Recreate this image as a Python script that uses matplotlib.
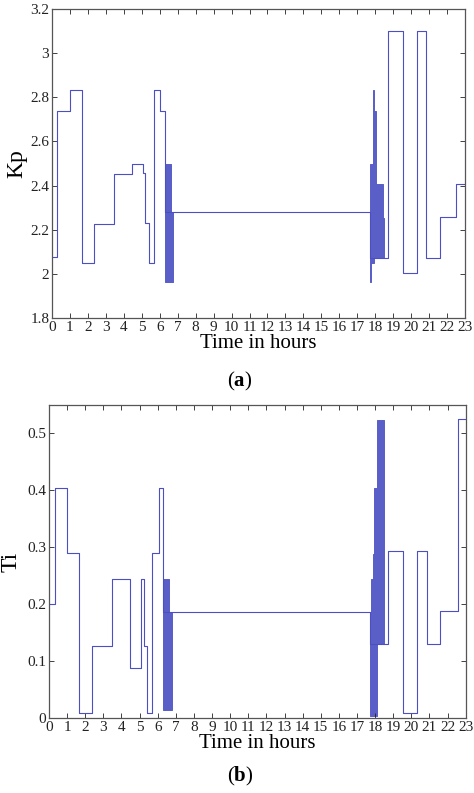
import matplotlib
matplotlib.use("Agg")
import matplotlib.pyplot as plt
import numpy as np
from matplotlib.ticker import FuncFormatter

plt.rcParams['font.family'] = ['Liberation Serif', 'DejaVu Serif']
plt.rcParams['mathtext.fontset'] = 'custom'
plt.rcParams['mathtext.bf'] = 'Liberation Serif:bold'
plt.rcParams['mathtext.rm'] = 'Liberation Serif'

# Kp: step edges (hours) and level held after each edge
kp_t = [0, 0.27, 1.03, 1.66, 2.36, 3.44, 4.45, 5.07, 5.18, 5.40, 5.66, 6.01, 6.28,
        6.76, 17.70, 18.50, 18.74, 19.52, 20.32, 20.82, 21.60, 22.50, 23.0]
kp_v = [2.075, 2.737, 2.833, 2.048, 2.226, 2.454, 2.496, 2.457, 2.229, 2.050, 2.833,
        2.738, 2.279, 2.279, 2.072, 2.072, 3.10, 2.005, 3.10, 2.072, 2.256, 2.409, 2.409]

# Kp fast-switching bursts: band edges, low and high envelope
kp_b1_t = [6.28, 6.65, 6.76]
kp_b1_lo = [1.962, 1.962, 1.962]
kp_b1_hi = [2.496, 2.279, 2.279]
kp_b2_t = [17.70, 17.79, 17.86, 17.96, 18.05, 18.42, 18.50]
kp_b2_lo = [1.962, 2.048, 2.048, 2.072, 2.072, 2.072, 2.072]
kp_b2_hi = [2.496, 2.496, 2.833, 2.738, 2.407, 2.252, 2.252]

# Ti
ti_t = [0, 0.31, 1.02, 1.66, 2.36, 3.45, 4.47, 5.08, 5.22, 5.43, 5.70, 6.05, 6.30,
        6.80, 17.70, 18.50, 18.74, 19.52, 20.32, 20.85, 21.60, 22.55, 23.0]
ti_v = [0.200, 0.405, 0.290, 0.010, 0.127, 0.245, 0.089, 0.245, 0.127, 0.010, 0.290,
        0.405, 0.186, 0.186, 0.130, 0.130, 0.293, 0.010, 0.293, 0.130, 0.188, 0.525, 0.525]

ti_b1_t = [6.30, 6.65, 6.80]
ti_b1_lo = [0.015, 0.015, 0.015]
ti_b1_hi = [0.245, 0.186, 0.186]
ti_b2_t = [17.70, 17.80, 17.88, 17.93, 18.10, 18.45, 18.50]
ti_b2_lo = [0.004, 0.004, 0.004, 0.004, 0.130, 0.130, 0.130]
ti_b2_hi = [0.186, 0.245, 0.289, 0.404, 0.524, 0.524, 0.524]

line_c = '#4a50c4'
fill_c = '#5a5fc8'

fig = plt.figure(figsize=(4.74, 7.93), dpi=100)
ax1 = fig.add_axes([0.1097, 0.599, 0.8713, 0.3897])
ax2 = fig.add_axes([0.1034, 0.0942, 0.879, 0.3951])


def draw(ax, t, v, bands):
    ax.step(t, v, where='post', color=line_c, lw=0.8)
    for bt, lo, hi in bands:
        ax.fill_between(bt, lo, hi, step='post', color=fill_c, lw=0.6, edgecolor=line_c)
    ax.set_xlim(0, 23)
    ax.set_xticks(range(0, 24))
    ax.tick_params(direction='in', top=True, right=True, length=3.5, width=0.6,
                   labelsize=11, pad=2, colors='#222222')
    for s in ax.spines.values():
        s.set_linewidth(0.9)
        s.set_color('#555555')
    ax.yaxis.set_major_formatter(FuncFormatter(lambda x, p: '%g' % round(x, 2)))
    ax.set_xlabel('Time in hours', fontsize=15, labelpad=0)


draw(ax1, kp_t, kp_v, [(kp_b1_t, kp_b1_lo, kp_b1_hi), (kp_b2_t, kp_b2_lo, kp_b2_hi)])
ax1.set_ylim(1.8, 3.2)
ax1.set_yticks(np.arange(1.8, 3.21, 0.2))
ax1.set_ylabel('Kp', fontsize=17, labelpad=2)

draw(ax2, ti_t, ti_v, [(ti_b1_t, ti_b1_lo, ti_b1_hi), (ti_b2_t, ti_b2_lo, ti_b2_hi)])
ax2.set_ylim(0, 0.55)
ax2.set_yticks(np.arange(0, 0.51, 0.1))
ax2.set_ylabel('Ti', fontsize=17, labelpad=4)

fig.text(0.506, 0.519, r'($\mathbf{a}$)', ha='center', va='center', fontsize=15)
fig.text(0.506, 0.021, r'($\mathbf{b}$)', ha='center', va='center', fontsize=15)

fig.savefig('out.png', dpi=100)
